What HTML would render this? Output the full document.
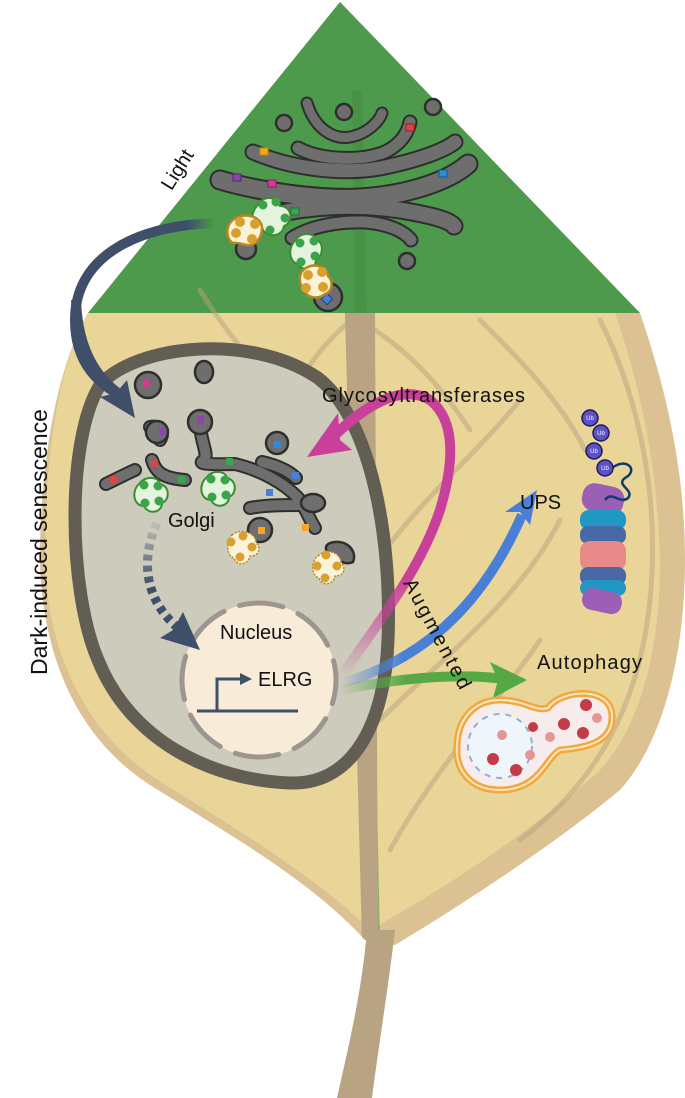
<!DOCTYPE html>
<html><head><meta charset="utf-8"><style>
html,body{margin:0;padding:0;background:#fff;}
svg{display:block;}
text{font-family:"Liberation Sans",sans-serif;fill:#111;}
</style></head><body>
<svg width="685" height="1098" viewBox="0 0 685 1098" xmlns="http://www.w3.org/2000/svg">
<defs>
<clipPath id="leaf"><path d="M340,2 L88,313 C55,370 40,470 40,560 C42,660 80,740 150,785 C230,835 310,880 365,940 L395,945 C470,900 560,840 620,790 C665,740 685,650 685,560 C685,480 670,400 640,313 Z"/></clipPath>
<linearGradient id="pg" x1="0" y1="1" x2="0" y2="0"><stop offset="0" stop-color="#c8409a" stop-opacity="0"/><stop offset="0.35" stop-color="#c8409a"/></linearGradient>
<linearGradient id="bg" x1="0" y1="0" x2="1" y2="0"><stop offset="0" stop-color="#4a7fd8" stop-opacity="0"/><stop offset="0.35" stop-color="#4a7fd8"/></linearGradient>
<linearGradient id="gg" x1="0" y1="0" x2="1" y2="0"><stop offset="0" stop-color="#56a844" stop-opacity="0"/><stop offset="0.4" stop-color="#56a844"/></linearGradient>
<linearGradient id="dg" x1="1" y1="0" x2="0" y2="0"><stop offset="0" stop-color="#3f4f6a" stop-opacity="0"/><stop offset="0.2" stop-color="#3f4f6a"/></linearGradient>
<linearGradient id="dd" x1="0" y1="0" x2="0" y2="1"><stop offset="0" stop-color="#3f4f6a" stop-opacity="0.1"/><stop offset="0.6" stop-color="#3f4f6a"/></linearGradient>
</defs>
<path d="M340,2 L88,313 C55,370 40,470 40,560 C42,660 80,740 150,785 C230,835 310,880 365,940 L395,945 C470,900 560,840 620,790 C665,740 685,650 685,560 C685,480 670,400 640,313 Z" fill="#dcc293"/>
<g clip-path="url(#leaf)">
<path d="M340,2 L88,313 C55,370 45,470 45,560 C47,655 88,735 158,780 C238,830 318,878 370,930 C460,880 545,820 600,770 C645,720 660,640 660,560 C658,480 645,400 615,313 Z" fill="#ead598"/>
<rect x="0" y="0" width="685" height="313" fill="#4e9a4c"/>
<g fill="none" stroke="#b8a080" stroke-opacity="0.5" stroke-width="5" stroke-linecap="round">
<path d="M352,320 C300,360 280,420 260,470"/>
<path d="M375,330 C420,360 450,400 470,430"/>
<path d="M378,560 C420,500 480,450 520,400"/>
<path d="M380,720 C440,660 520,600 560,520"/>
<path d="M200,290 C230,340 270,380 300,420"/>
<path d="M480,320 C520,360 560,400 585,450"/>
<path d="M390,850 C440,760 500,700 540,640"/>
<path d="M600,320 C640,400 660,500 650,600 C640,700 600,780 520,840"/>
</g>
<path d="M352,90 L362,90 L380,940 L362,940 Z" fill="#3f8a3d" opacity="0.5"/>
<path d="M345,313 L375,313 L378,940 L362,940 Z" fill="#b8a383"/>
</g>
<path d="M367,930 L395,930 C388,990 378,1050 372,1098 L337,1098 C350,1040 362,990 367,930 Z" fill="#b8a383"/>
<g fill="none" stroke-linecap="round">
<g stroke="#2e2e2e">
<path d="M307,103 C315,130 335,140 350,137 C368,134 380,120 382,113" stroke-width="13"/>
<path d="M298,148 C320,160 360,162 385,152 C400,145 408,133 410,122" stroke-width="15"/>
<path d="M253,152 C290,168 340,175 380,168 C420,160 445,150 455,142" stroke-width="17"/>
<path d="M220,180 C260,192 320,200 360,198 C410,195 450,180 468,164" stroke-width="21"/>
<path d="M286,212 C320,206 360,204 400,210 C430,215 450,220 454,226" stroke-width="19"/>
<path d="M292,238 C310,226 340,221 365,222 C390,224 405,232 411,240" stroke-width="15"/>
</g>
<g stroke="#6e6e6e">
<path d="M307,103 C315,130 335,140 350,137 C368,134 380,120 382,113" stroke-width="9"/>
<path d="M298,148 C320,160 360,162 385,152 C400,145 408,133 410,122" stroke-width="11"/>
<path d="M253,152 C290,168 340,175 380,168 C420,160 445,150 455,142" stroke-width="13"/>
<path d="M220,180 C260,192 320,200 360,198 C410,195 450,180 468,164" stroke-width="17"/>
<path d="M286,212 C320,206 360,204 400,210 C430,215 450,220 454,226" stroke-width="15"/>
<path d="M292,238 C310,226 340,221 365,222 C390,224 405,232 411,240" stroke-width="11"/>
</g>
</g>
<g fill="#6e6e6e" stroke="#2e2e2e" stroke-width="2.5">
<circle cx="284" cy="123" r="8"/><circle cx="344" cy="112" r="8"/><circle cx="433" cy="107" r="8"/><circle cx="407" cy="261" r="8"/>
<circle cx="246" cy="249" r="10"/><circle cx="328" cy="297" r="14"/>
</g>
<g stroke-width="1.2">
<rect x="406" y="124" width="8" height="7" fill="#d44" stroke="#a22"/>
<rect x="260" y="148" width="8" height="7" fill="#f5a623" stroke="#c80"/>
<rect x="233" y="174" width="8" height="7" fill="#8e44ad" stroke="#5e2a7d"/>
<rect x="268" y="180" width="8" height="7" fill="#d63a92" stroke="#a0206a"/>
<rect x="439" y="170" width="8" height="7" fill="#2d8dd6" stroke="#1c5f9a"/>
<rect x="291" y="208" width="8" height="7" fill="#3aa655" stroke="#257a3a"/>
<rect x="323" y="295" width="8" height="8" fill="#4a7fd8" stroke="#284a8a" transform="rotate(45 327 299)"/>
</g>
<g>
<path d="M258,205 C262,195 278,196 280,206 C292,206 294,222 284,226 C282,238 266,238 262,228 C252,232 248,214 258,205Z" fill="#e4f3dc" stroke="#3a8c32" stroke-width="2"/>
<circle cx="263" cy="205" r="4.5" fill="#3aa44a"/><circle cx="276" cy="202" r="4.5" fill="#3aa44a"/><circle cx="285" cy="218" r="4.5" fill="#3aa44a"/><circle cx="270" cy="230" r="4.5" fill="#3aa44a"/>
<path d="M236,218 C248,212 262,218 262,228 C262,238 255,245 250,245 C245,246 240,242 233,243 C226,240 224,224 236,218Z" fill="#fbf3d8" stroke="#b8861c" stroke-width="2.5"/>
<circle cx="240" cy="222" r="5" fill="#d9a030"/><circle cx="255" cy="224" r="5" fill="#d9a030"/><circle cx="236" cy="233" r="5" fill="#d9a030"/><circle cx="252" cy="239" r="5" fill="#d9a030"/>
<path d="M296,240 C300,232 314,232 317,240 C325,244 322,258 316,260 C316,270 302,272 298,264 C288,262 288,246 296,240Z" fill="#e4f3dc" stroke="#3a8c32" stroke-width="2"/>
<circle cx="300" cy="243" r="4.5" fill="#3aa44a"/><circle cx="314" cy="241" r="4.5" fill="#3aa44a"/><circle cx="315" cy="256" r="4.5" fill="#3aa44a"/><circle cx="301" cy="262" r="4.5" fill="#3aa44a"/>
<path d="M306,268 C316,262 328,268 328,276 C334,282 332,292 325,294 C318,300 306,298 305,290 C298,285 298,272 306,268Z" fill="#fbf3d8" stroke="#b8861c" stroke-width="2.5"/>
<circle cx="308" cy="275" r="5" fill="#d9a030"/><circle cx="322" cy="272" r="5" fill="#d9a030"/><circle cx="306" cy="288" r="5" fill="#d9a030"/><circle cx="323" cy="287" r="5" fill="#d9a030"/>
</g>
<path d="M100,385 C135,345 250,332 318,378 C372,420 392,540 388,640 C385,720 355,785 290,783 C210,780 130,740 98,660 C68,590 66,440 100,385Z" fill="#cdcbbb" stroke="#625e53" stroke-width="13"/>
<g fill="none" stroke-linecap="round" stroke-linejoin="round">
<g stroke="#2e2e2e" stroke-width="14">
<path d="M106,484 C118,478 130,472 135,470"/>
<path d="M152,460 C155,470 160,478 185,480"/>
<path d="M200,423 C200,440 208,452 205,460 C200,462 195,465 235,464 C260,470 285,483 300,500 C306,510 310,520 315,528"/>
<path d="M262,462 C275,465 288,470 296,478"/>
<path d="M300,505 C285,505 265,505 250,508"/>
<path d="M150,427 C160,425 165,432 160,440"/>
</g>
<g stroke="#6e6e6e" stroke-width="10">
<path d="M106,484 C118,478 130,472 135,470"/>
<path d="M152,460 C155,470 160,478 185,480"/>
<path d="M200,423 C200,440 208,452 205,460 C200,462 195,465 235,464 C260,470 285,483 300,500 C306,510 310,520 315,528"/>
<path d="M262,462 C275,465 288,470 296,478"/>
<path d="M300,505 C285,505 265,505 250,508"/>
<path d="M150,427 C160,425 165,432 160,440"/>
</g>
</g>
<g fill="#6e6e6e" stroke="#2e2e2e" stroke-width="2.5">
<circle cx="148" cy="385" r="13"/><ellipse cx="204" cy="372" rx="9" ry="11"/>
<circle cx="200" cy="422" r="12"/><circle cx="157" cy="432" r="11"/>
<circle cx="277" cy="443" r="11"/><ellipse cx="313" cy="503" rx="12" ry="9"/>
<circle cx="260" cy="530" r="12"/>
<path d="M330,543 C345,538 358,550 353,562 C345,566 338,560 330,555 C324,550 325,545 330,543Z"/>
</g>
<g stroke-width="1">
<rect x="143" y="380" width="7" height="7" fill="#d63a92"/><rect x="159" y="428" width="7" height="7" fill="#8e44ad"/><rect x="197" y="416" width="7" height="7" fill="#8e44ad"/>
<rect x="151" y="460" width="7" height="7" fill="#d44"/><rect x="110" y="476" width="7" height="7" fill="#d44"/><rect x="178" y="476" width="7" height="7" fill="#3aa655"/>
<rect x="226" y="458" width="7" height="7" fill="#3aa655"/><rect x="274" y="441" width="7" height="7" fill="#2d8dd6"/><rect x="292" y="472" width="7" height="7" fill="#4a7fd8"/>
<rect x="266" y="489" width="7" height="7" fill="#4a7fd8"/><rect x="258" y="527" width="7" height="7" fill="#f5a623"/><rect x="302" y="524" width="7" height="7" fill="#f5a623"/>
</g>
<g>
<path d="M140,483 C145,476 158,476 160,484 C170,486 170,500 162,503 C162,513 148,515 144,506 C133,506 131,490 140,483Z" fill="#e4f3dc" stroke="#3a8c32" stroke-width="2"/>
<circle cx="144" cy="485" r="4.5" fill="#3aa44a"/><circle cx="158" cy="486" r="4.5" fill="#3aa44a"/><circle cx="159" cy="501" r="4.5" fill="#3aa44a"/><circle cx="145" cy="503" r="4.5" fill="#3aa44a"/>
<path d="M207,477 C212,470 225,470 227,478 C237,480 237,494 229,497 C229,507 215,509 211,500 C200,500 198,484 207,477Z" fill="#e4f3dc" stroke="#3a8c32" stroke-width="2"/>
<circle cx="211" cy="479" r="4.5" fill="#3aa44a"/><circle cx="225" cy="480" r="4.5" fill="#3aa44a"/><circle cx="226" cy="495" r="4.5" fill="#3aa44a"/><circle cx="212" cy="497" r="4.5" fill="#3aa44a"/>
<path d="M232,535 C240,528 255,532 256,542 C262,550 258,556 250,556 C248,566 236,566 234,558 C226,556 226,540 232,535Z" fill="#fbf3d8" stroke="#b8861c" stroke-width="1.5" stroke-dasharray="2 1.5"/>
<circle cx="243" cy="536" r="4.5" fill="#d9a030"/><circle cx="252" cy="547" r="4.5" fill="#d9a030"/><circle cx="240" cy="557" r="4.5" fill="#d9a030"/><circle cx="231" cy="542" r="4.5" fill="#d9a030"/>
<path d="M318,556 C326,548 340,552 341,562 C347,570 343,576 335,576 C333,586 321,586 319,578 C311,576 311,560 318,556Z" fill="#fbf3d8" stroke="#b8861c" stroke-width="1.5" stroke-dasharray="2 1.5"/>
<circle cx="326" cy="555" r="4.5" fill="#d9a030"/><circle cx="337" cy="566" r="4.5" fill="#d9a030"/><circle cx="325" cy="578" r="4.5" fill="#d9a030"/><circle cx="317" cy="566" r="4.5" fill="#d9a030"/>
</g>
<circle cx="259" cy="680" r="77" fill="#f8ecd8"/>
<circle cx="259" cy="680" r="77" fill="none" stroke="#9d9690" stroke-width="5" stroke-dasharray="44 16.5" stroke-dashoffset="20" stroke-linecap="round"/>
<path d="M197,711 L298,711 M217,711 L217,679 L242,679" fill="none" stroke="#3f4f6a" stroke-width="3"/>
<path d="M240,673 L252,679 L240,685Z" fill="#3f4f6a"/>
<path d="M157,523 C140,560 145,600 178,628" fill="none" stroke="url(#dd)" stroke-width="9" stroke-dasharray="6 5"/>
<path d="M200,650 L160,638 L173,630 L183,612Z" fill="#3f4f6a"/>
<path d="M215,223 C130,226 75,260 75,320 C75,365 100,385 125,398" fill="none" stroke="url(#dg)" stroke-width="10"/>
<path d="M76,300 C78,355 100,382 125,398" fill="none" stroke="#3f4f6a" stroke-width="10"/>
<path d="M135,418 L100,397 L116,393 L127,380Z" fill="#3f4f6a"/>
<path d="M340,678 C380,620 420,570 440,510 C455,460 455,420 430,400 C405,385 370,400 330,440" fill="none" stroke="url(#pg)" stroke-width="10"/>
<path d="M430,400 C405,385 370,400 335,435" fill="none" stroke="#c8409a" stroke-width="10"/>
<path d="M307,457 L352,450 L340,440 L338,413Z" fill="#c8409a"/>
<path d="M340,684 C420,660 480,610 522,515" fill="none" stroke="url(#bg)" stroke-width="10"/>
<path d="M537,490 L505,512 L520,512 L530,525Z" fill="#4a7fd8"/>
<path d="M340,690 C390,680 450,672 505,679" fill="none" stroke="url(#gg)" stroke-width="10"/>
<path d="M527,680 L490,662 L498,680 L493,698Z" fill="#56a844"/>
<g>
<rect x="582" y="485" width="42" height="28" rx="12" fill="#9b5fb5" transform="rotate(12 603 499)"/>
<rect x="580" y="510" width="46" height="20" rx="9" fill="#1f98c4"/>
<rect x="580" y="526" width="46" height="18" rx="8" fill="#4868a6"/>
<rect x="580" y="541" width="46" height="30" rx="10" fill="#e98a8a"/>
<rect x="580" y="567" width="46" height="18" rx="8" fill="#4868a6"/>
<rect x="580" y="580" width="46" height="16" rx="8" fill="#1f98c4"/>
<rect x="582" y="590" width="40" height="22" rx="10" fill="#9b5fb5" transform="rotate(12 602 601)"/>
<path d="M610,470 C625,455 640,470 625,478 C615,485 635,490 628,498 C620,505 612,490 605,500" fill="none" stroke="#0f3a6e" stroke-width="2.5"/>
<g fill="#5b52c8" stroke="#1e1a5a" stroke-width="1.5"><circle cx="590" cy="418" r="8"/><circle cx="601" cy="433" r="8"/><circle cx="594" cy="451" r="8"/><circle cx="605" cy="468" r="8"/></g>
<g font-size="6" text-anchor="middle"><text x="590" y="420" style="fill:#fff">Ub</text><text x="601" y="435" style="fill:#fff">Ub</text><text x="594" y="453" style="fill:#fff">Ub</text><text x="605" y="470" style="fill:#fff">Ub</text></g>
</g>
<path d="M500,700 C525,700 535,712 548,708 C560,690 610,685 612,715 C614,745 580,748 560,750 C545,758 540,790 500,790 C470,790 455,770 457,745 C458,718 475,700 500,700Z" fill="#f7ecec" stroke="#f2a840" stroke-width="7"/>
<path d="M500,700 C525,700 535,712 548,708 C560,690 610,685 612,715 C614,745 580,748 560,750 C545,758 540,790 500,790 C470,790 455,770 457,745 C458,718 475,700 500,700Z" fill="none" stroke="#fbe6c0" stroke-width="2"/>
<circle cx="500" cy="746" r="32" fill="#eef6fb" stroke="#8fb0d6" stroke-width="2" stroke-dasharray="6 6"/>
<g fill="#c43a45"><circle cx="586" cy="705" r="6"/><circle cx="564" cy="724" r="6"/><circle cx="583" cy="733" r="6"/><circle cx="493" cy="759" r="6"/><circle cx="516" cy="770" r="6"/><circle cx="533" cy="727" r="5"/></g>
<g fill="#e49696"><circle cx="502" cy="735" r="5"/><circle cx="550" cy="737" r="5"/><circle cx="597" cy="718" r="5"/><circle cx="530" cy="755" r="5"/></g>
<text x="0" y="0" font-size="20" text-anchor="middle" transform="translate(183,173) rotate(-58)">Light</text>
<text x="0" y="0" font-size="23" text-anchor="middle" transform="translate(47,542) rotate(-90)">Dark-induced senescence</text>
<text x="322" y="402" font-size="20" textLength="203" lengthAdjust="spacing">Glycosyltransferases</text>
<text x="168" y="527" font-size="20">Golgi</text>
<text x="220" y="639" font-size="20">Nucleus</text>
<text x="258" y="686" font-size="20">ELRG</text>
<text x="520" y="509" font-size="20">UPS</text>
<text x="537" y="669" font-size="20" textLength="105" lengthAdjust="spacing">Autophagy</text>
<text x="0" y="0" font-size="20" textLength="122" lengthAdjust="spacing" transform="translate(403,583) rotate(62)">Augmented</text>
</svg>
</body></html>
